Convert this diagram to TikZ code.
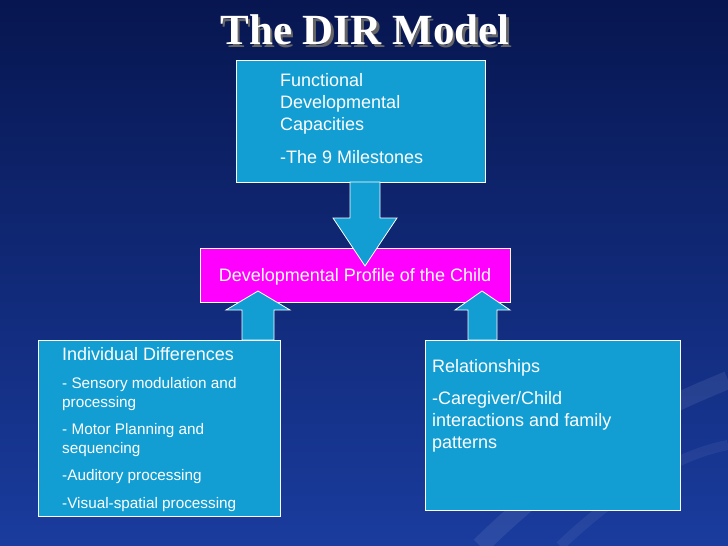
\documentclass[tikz,border=0pt]{standalone}
\usepackage{fontspec}
\setmainfont{Liberation Serif}
\newfontfamily\sans{Liberation Sans}
\definecolor{boxc}{HTML}{129ED2}
\definecolor{magc}{HTML}{FF00FF}
\definecolor{bgtop}{HTML}{071650}
\definecolor{bgbot}{HTML}{1A3C9E}
\begin{document}
\begin{tikzpicture}[x=1pt,y=-1pt,
  box/.style={fill=boxc,draw=white,line width=0.6pt},
  arr/.style={fill=boxc,draw=white,line width=0.8pt},
  txt/.style={text=white,font=\sans\fontsize{18}{22}\selectfont,anchor=north west,align=left,inner sep=0pt},
  stxt/.style={text=white,font=\sans\fontsize{15.3}{19}\selectfont,anchor=north west,align=left,inner sep=0pt}]
\shade[top color=bgtop,bottom color=bgbot] (0,0) rectangle (728,546);
\useasboundingbox (0,0) rectangle (728,546);
\draw[white,opacity=0.08,line width=18pt] (480,546) .. controls (600,430) and (680,400) .. (728,380);
\draw[white,opacity=0.06,line width=10pt] (560,546) .. controls (640,470) and (700,450) .. (728,445);
\node[text=black!60,font=\bfseries\fontsize{43}{48}\selectfont] at (367.5,32.5) {The DIR Model};
\node (title) [text=white,font=\bfseries\fontsize{43}{48}\selectfont] at (365,30) {The DIR Model};
% top box
\node (top) [box,minimum width=249,minimum height=122,anchor=north west] at (236,60) {};
\node[txt] at (280,73) {Functional\\Developmental\\Capacities};
\node[txt] at (280,150) {-The 9 Milestones};
% magenta box
\node (mid) [fill=magc,draw=white,line width=0.6pt,minimum width=310,minimum height=54,anchor=north west] at (200,248) {};
\node[text=white,font=\sans\fontsize{18}{22}\selectfont] at (355,277) {Developmental Profile of the Child};
% down arrow
\draw[arr] (350,182) -- (380,182) -- (380,218) -- (397,218) -- (365,266) -- (333,218) -- (350,218) -- cycle;
% up arrows
\draw[arr] (242,340) -- (274,340) -- (274,310) -- (290,310) -- (258,291) -- (226,310) -- (242,310) -- cycle;
\draw[arr] (468,340) -- (497,340) -- (497,310) -- (510,310) -- (482,291) -- (455,310) -- (468,310) -- cycle;
% left box
\node (left) [box,minimum width=242,minimum height=176,anchor=north west] at (38,340) {};
\node[txt] at (62,347) {Individual Differences};
\node[stxt] at (62,377) {- Sensory modulation and\\processing};
\node[stxt] at (62,423) {- Motor Planning and\\sequencing};
\node[stxt] at (62,469) {-Auditory processing};
\node[stxt] at (62,497) {-Visual-spatial processing};
% right box
\node (right) [box,minimum width=255,minimum height=170,anchor=north west] at (425,340) {};
\node[txt] at (432,359) {Relationships};
\node[txt] at (432,391) {-Caregiver/Child\\interactions and family\\patterns};
\end{tikzpicture}
\end{document}
